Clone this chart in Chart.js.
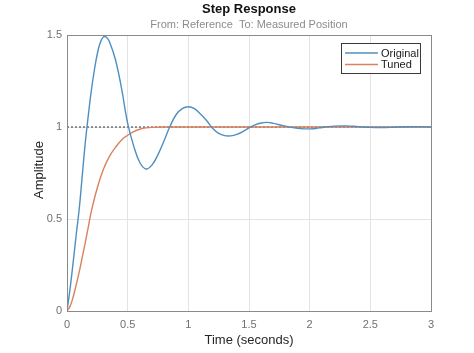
<!DOCTYPE html>
<html>
<head>
<meta charset="utf-8">
<script src="https://cdn.jsdelivr.net/npm/chart.js@4"></script>
<style>
html,body{margin:0;padding:0;background:#fff;}
#wrap{width:474px;height:353px;}
</style>
</head>
<body>
<div id="wrap"><canvas id="c" width="474" height="353"></canvas></div>
<script>
// ---- data ----
const titleText = "Step Response";
const subtitleText = "From: Reference  To: Measured Position";
const xTitle = "Time (seconds)";
const yTitle = "Amplitude";

const originalT = [0,0.025,0.05,0.075,0.1,0.125,0.15,0.175,0.2,0.225,0.25,0.275,0.3,0.325,0.35,0.4,0.45,0.5,0.55,0.6,0.65,0.7,0.75,0.8,0.85,0.9,0.95,1.0,1.05,1.1,1.15,1.2,1.25,1.3,1.35,1.4,1.45,1.5,1.55,1.6,1.65,1.7,1.75,1.8,1.85,1.9,1.95,2.0,2.05,2.1,2.15,2.2,2.3,2.4,2.5,2.6,2.7,2.8,2.9,3.0];
const originalY = [0,0.12,0.26,0.41,0.55,0.73,0.91,1.06,1.195,1.307,1.398,1.46,1.489,1.488,1.463,1.364,1.208,1.02,0.896,0.807,0.772,0.793,0.85,0.925,1.005,1.068,1.10,1.11,1.10,1.07,1.035,0.993,0.965,0.953,0.952,0.96,0.975,0.995,1.012,1.022,1.025,1.02,1.012,1.005,0.998,0.993,0.99,0.99,0.992,0.997,1.002,1.005,1.006,1.002,0.998,0.997,0.999,1.001,1.001,1.0];

const tunedT = [0,0.025,0.05,0.075,0.1,0.125,0.15,0.175,0.2,0.25,0.3,0.35,0.4,0.45,0.5,0.55,0.6,0.65,0.7,0.8,1.0,1.5,2.0,2.5,3.0];
const tunedY = [0,0.025,0.075,0.14,0.21,0.29,0.37,0.455,0.54,0.67,0.77,0.84,0.89,0.93,0.955,0.975,0.988,0.995,0.998,1.0,1.0,1.0,1.0,1.0,1.0];

const refT = [0,3];
const refY = [1,1];

const xTicks = [0,0.5,1,1.5,2,2.5,3];
const yTicks = [0,0.5,1,1.5];

const seriesNames = ["Original","Tuned"];
const seriesColors = ["#4f8fc0","#d9825e"];

const toXY = (t, y) => t.map((v, i) => ({x: v, y: y[i]}));

const FONT = "'Liberation Sans', Arial, Helvetica, sans-serif";

const decor = {
  id: 'decor',
  afterDraw(chart) {
    const ctx = chart.ctx;
    const a = chart.chartArea;
    const cx = (a.left + a.right) / 2;
    ctx.save();
    ctx.strokeStyle = '#8a8a8a';
    ctx.lineWidth = 1;
    ctx.strokeRect(Math.round(a.left) + 0.5, Math.round(a.top) + 0.5, Math.round(a.right - a.left), Math.round(a.bottom - a.top));
    ctx.textAlign = 'center';
    ctx.textBaseline = 'middle';
    ctx.fillStyle = '#111';
    ctx.font = "bold 13px " + FONT;
    ctx.fillText(titleText, cx, 9);
    ctx.fillStyle = '#8c8c8c';
    ctx.font = "11px " + FONT;
    ctx.fillText(subtitleText, cx, 25);
    ctx.fillStyle = '#262626';
    ctx.font = "13px " + FONT;
    ctx.fillText(xTitle, cx, 340);
    ctx.save();
    ctx.translate(39, (a.top + a.bottom) / 2 - 3);
    ctx.rotate(-Math.PI / 2);
    ctx.fillText(yTitle, 0, 0);
    ctx.restore();
    const lx = 341.5, ly = 43.5, lw = 79, lh = 30;
    ctx.fillStyle = '#fff';
    ctx.fillRect(lx, ly, lw, lh);
    ctx.strokeStyle = '#3a3a3a';
    ctx.strokeRect(lx, ly, lw, lh);
    ctx.font = "11px " + FONT;
    ctx.textAlign = 'left';
    seriesNames.forEach((n, i) => {
      const yy = 53 + i * 11.5;
      ctx.strokeStyle = seriesColors[i];
      ctx.lineWidth = 1.3;
      ctx.beginPath();
      ctx.moveTo(345, yy);
      ctx.lineTo(378, yy);
      ctx.stroke();
      ctx.fillStyle = '#1a1a1a';
      ctx.fillText(n, 381, yy + 0.5);
    });
    ctx.restore();
  }
};

const fmt = v => String(Number(v));

new Chart(document.getElementById('c'), {
  type: 'line',
  data: {
    datasets: [
      {label: 'ref', data: toXY(refT, refY), borderColor: '#333', borderWidth: 1, borderDash: [2, 2], pointRadius: 0, order: 3},
      {label: seriesNames[0], data: toXY(originalT, originalY), borderColor: seriesColors[0], borderWidth: 1.4, pointRadius: 0, tension: 0.4, order: 1},
      {label: seriesNames[1], data: toXY(tunedT, tunedY), borderColor: seriesColors[1], borderWidth: 1.4, pointRadius: 0, tension: 0.4, order: 2}
    ]
  },
  options: {
    responsive: false,
    animation: false,
    layout: {padding: {left: 0, right: 43, top: 35, bottom: 0}},
    plugins: {legend: {display: false}, title: {display: false}, tooltip: {enabled: false}},
    scales: {
      x: {
        type: 'linear', min: 0, max: 3,
        afterFit: s => { s.height = 42; },
        afterBuildTicks: s => { s.ticks = xTicks.map(v => ({value: v})); },
        grid: {color: '#e3e3e3', drawTicks: false},
        border: {color: '#8a8a8a'},
        ticks: {padding: 7, color: '#707070', font: {size: 11, family: FONT}, maxRotation: 0, callback: fmt}
      },
      y: {
        min: 0, max: 1.5,
        afterFit: s => { s.width = 67; },
        afterBuildTicks: s => { s.ticks = yTicks.map(v => ({value: v})); },
        grid: {color: '#e3e3e3', drawTicks: false},
        border: {color: '#8a8a8a'},
        ticks: {padding: 5, color: '#707070', font: {size: 11, family: FONT}, callback: fmt}
      }
    }
  },
  plugins: [decor]
});
</script>
</body>
</html>
